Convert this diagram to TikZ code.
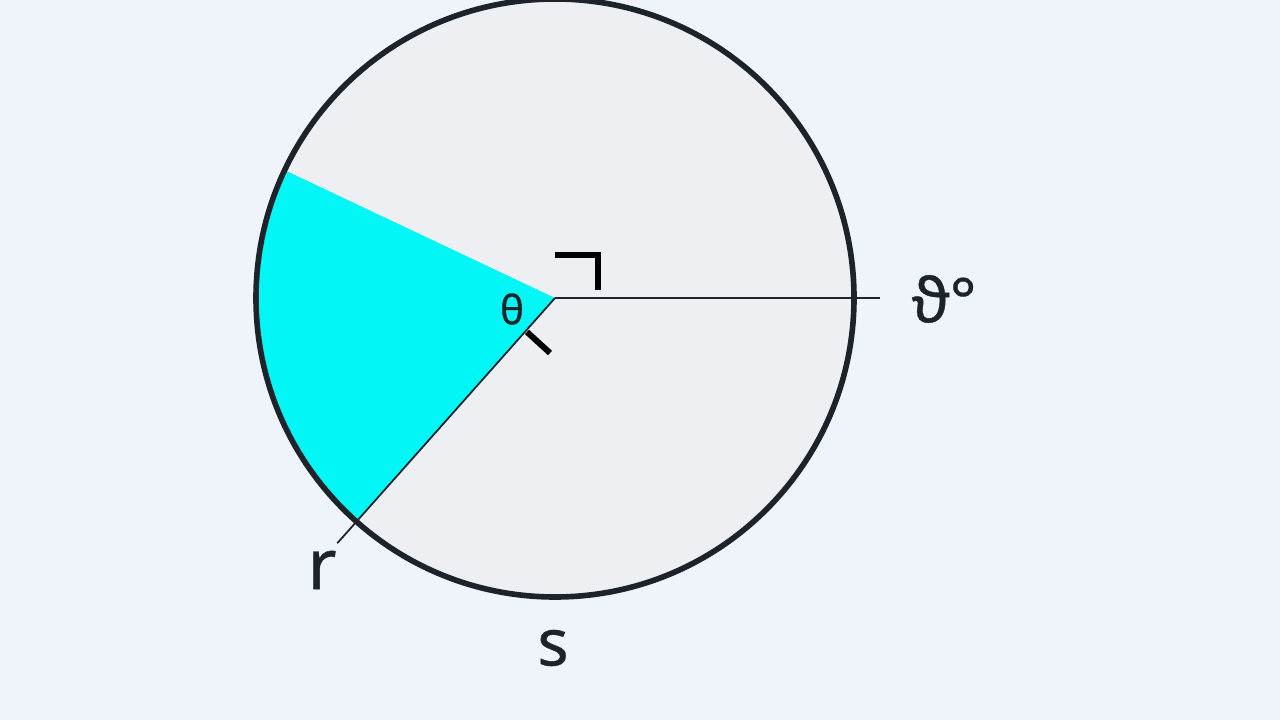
\documentclass[tikz,border=0pt]{standalone}
\usepackage{fontspec}
\setmainfont{Noto Sans}[FakeBold=0.6]
\usepackage{tikz}
\usetikzlibrary{calc}

\definecolor{fondo}{HTML}{EFF4FB}
\definecolor{disco}{HTML}{EDEFF2}
\definecolor{sector}{HTML}{00F7F5}
\definecolor{trazo}{HTML}{1C232B}

\tikzset{
    borde/.style={draw=trazo, line width=3.2pt},
    radio/.style={draw=trazo, line width=1pt},
    marca/.style={draw=black, line width=3.4pt},
    etiqueta/.style={text=trazo, inner sep=0pt, font=\bfseries}
}

\begin{document}
\begin{tikzpicture}[x=0.02cm, y=0.02cm]
        \fill[fondo] (0,0) rectangle (1280,720);
        \useasboundingbox (0,0) rectangle (1280,720);

        %centro y puntos sobre la circunferencia
        \coordinate (O) at (555,422);
        \coordinate (A) at ($(O)+(154.7:299)$);
        \coordinate (B) at ($(O)+(228.4:299)$);
        \coordinate (Bext) at ($(O)+(228.4:328)$);
        \coordinate (E) at (880,422);

        %disco y sector
        \fill[disco] (O) circle (299);
        \fill[sector] (O) -- (A) arc (154.7:228.4:299) -- cycle;

        %radios
        \draw[radio] (O) -- (E);
        \draw[radio] (O) -- (Bext);

        \draw[borde] (O) circle (299);

        %marcas cerca del centro
        \draw[marca] (555,465) -- (598,465) -- (598,430);
        \draw[marca] (527,388) -- (550,367);

        %etiquetas
        \node[etiqueta] (theta) at (512,411) {\fontsize{23}{26}\selectfont θ};
        \node[etiqueta] (grados) at (944,421) {\fontsize{35}{40}\selectfont ϑ°};
        \node[etiqueta] (r) at (322,150) {\fontsize{40}{44}\selectfont r};
        \node[etiqueta] (s) at (553,72) {\fontsize{37}{40}\selectfont s};
    \end{tikzpicture}
\end{document}
